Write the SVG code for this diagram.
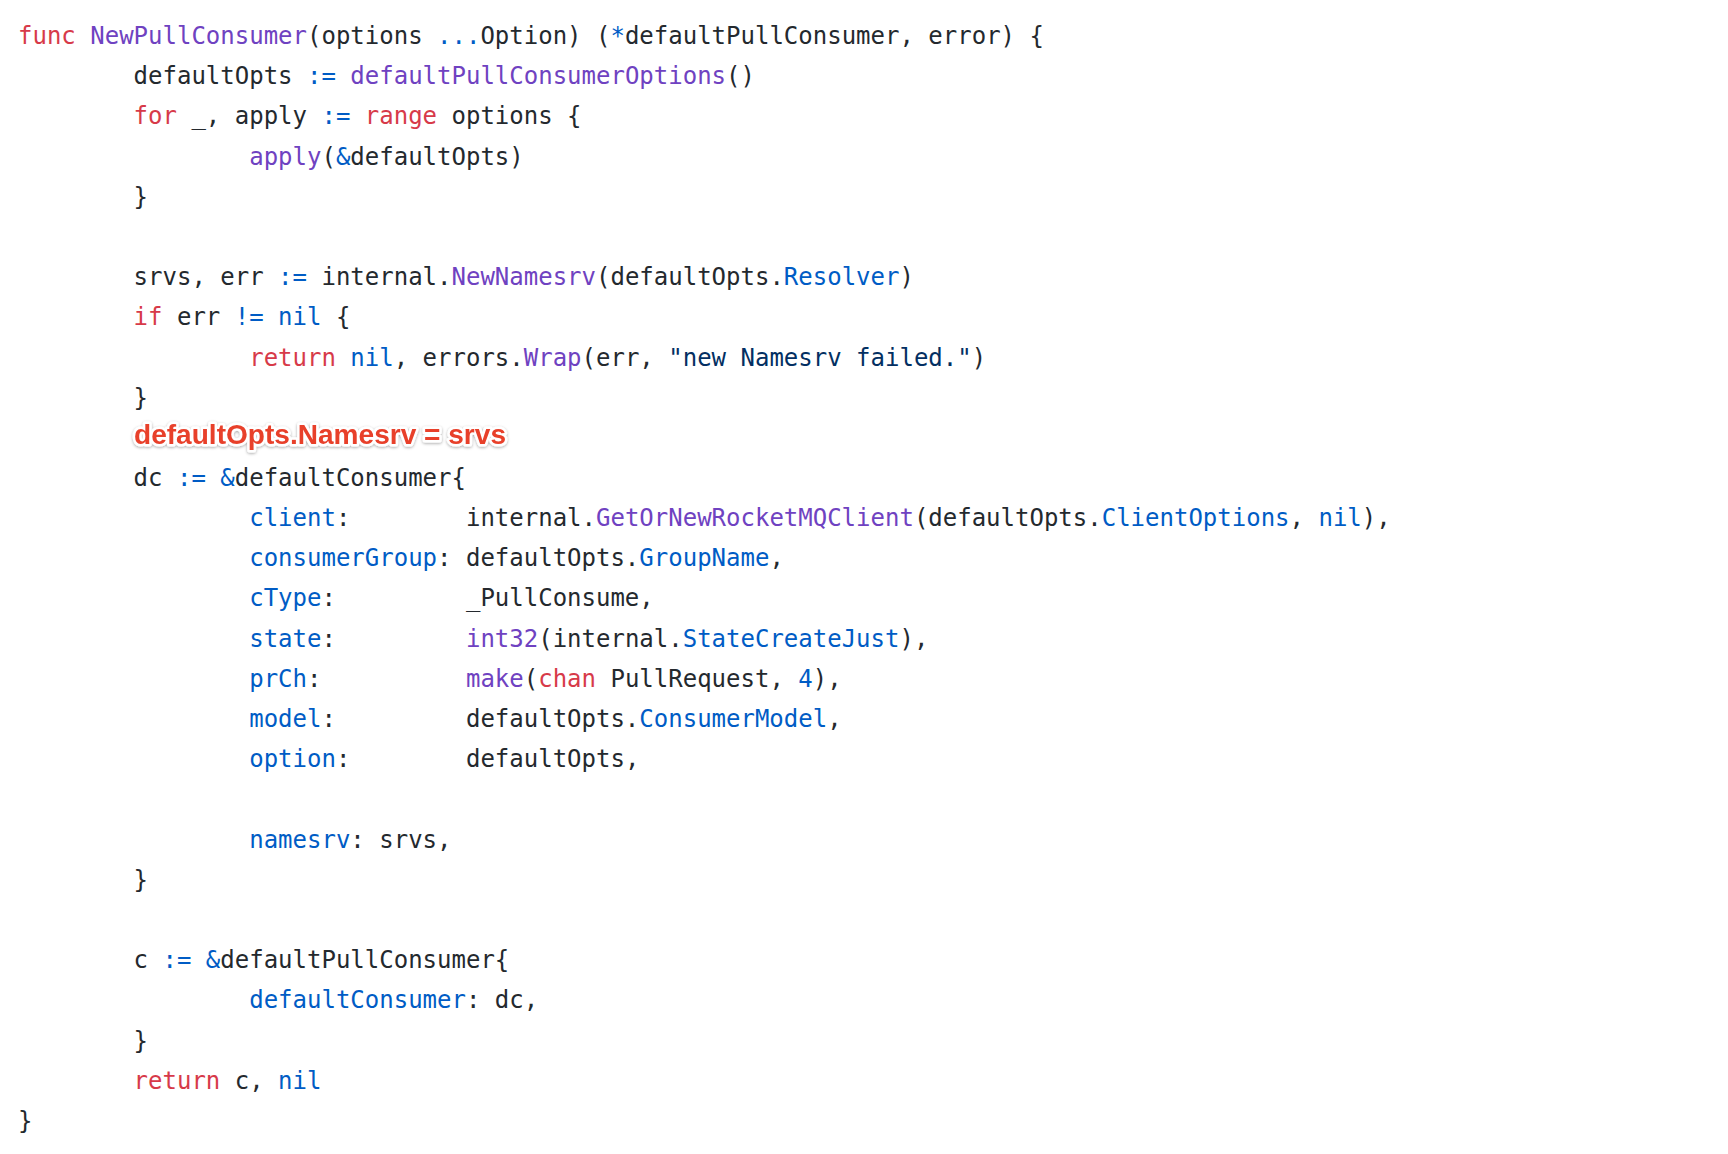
<svg xmlns="http://www.w3.org/2000/svg" width="1728" height="1154" viewBox="0 0 1728 1154">
<style>
text{font-family:"DejaVu Sans Mono","Liberation Mono",monospace;font-size:24px;fill:#24292e;white-space:pre}
.k{fill:#d73a49}.f{fill:#6f42c1}.b{fill:#005cc5}.s{fill:#032f62}
.hl{font-family:"Liberation Sans",Arial,sans-serif;font-weight:bold;font-size:28px;fill:#e8412c;stroke:#ffffff;stroke-width:5px;stroke-linejoin:round;paint-order:stroke;white-space:normal}
</style>
<defs><filter id="sh" x="-5%" y="-30%" width="110%" height="160%"><feDropShadow dx="0" dy="1" stdDeviation="1.5" flood-color="#000" flood-opacity="0.35"/></filter></defs>
<rect width="1728" height="1154" fill="#ffffff"/>
<g id="code" xml:space="preserve">
<text x="18" y="44"><tspan class="k">func</tspan> <tspan class="f">NewPullConsumer</tspan>(options <tspan class="b">...</tspan>Option) (<tspan class="b">*</tspan>defaultPullConsumer, error) {</text>
<text x="18" y="84">        defaultOpts <tspan class="b">:=</tspan> <tspan class="f">defaultPullConsumerOptions</tspan>()</text>
<text x="18" y="124">        <tspan class="k">for</tspan> _, apply <tspan class="b">:=</tspan> <tspan class="k">range</tspan> options {</text>
<text x="18" y="165">                <tspan class="f">apply</tspan>(<tspan class="b">&amp;</tspan>defaultOpts)</text>
<text x="18" y="205">        }</text>
<text x="18" y="285">        srvs, err <tspan class="b">:=</tspan> internal.<tspan class="f">NewNamesrv</tspan>(defaultOpts.<tspan class="b">Resolver</tspan>)</text>
<text x="18" y="325">        <tspan class="k">if</tspan> err <tspan class="b">!=</tspan> <tspan class="b">nil</tspan> {</text>
<text x="18" y="366">                <tspan class="k">return</tspan> <tspan class="b">nil</tspan>, errors.<tspan class="f">Wrap</tspan>(err, <tspan class="s">"new Namesrv failed."</tspan>)</text>
<text x="18" y="406">        }</text>
<text x="18" y="486">        dc <tspan class="b">:=</tspan> <tspan class="b">&amp;</tspan>defaultConsumer{</text>
<text x="18" y="526">                <tspan class="b">client</tspan>:        internal.<tspan class="f">GetOrNewRocketMQClient</tspan>(defaultOpts.<tspan class="b">ClientOptions</tspan>, <tspan class="b">nil</tspan>),</text>
<text x="18" y="566">                <tspan class="b">consumerGroup</tspan>: defaultOpts.<tspan class="b">GroupName</tspan>,</text>
<text x="18" y="606">                <tspan class="b">cType</tspan>:         _PullConsume,</text>
<text x="18" y="647">                <tspan class="b">state</tspan>:         <tspan class="f">int32</tspan>(internal.<tspan class="b">StateCreateJust</tspan>),</text>
<text x="18" y="687">                <tspan class="b">prCh</tspan>:          <tspan class="f">make</tspan>(<tspan class="k">chan</tspan> PullRequest, <tspan class="b">4</tspan>),</text>
<text x="18" y="727">                <tspan class="b">model</tspan>:         defaultOpts.<tspan class="b">ConsumerModel</tspan>,</text>
<text x="18" y="767">                <tspan class="b">option</tspan>:        defaultOpts,</text>
<text x="18" y="848">                <tspan class="b">namesrv</tspan>: srvs,</text>
<text x="18" y="888">        }</text>
<text x="18" y="968">        c <tspan class="b">:=</tspan> <tspan class="b">&amp;</tspan>defaultPullConsumer{</text>
<text x="18" y="1008">                <tspan class="b">defaultConsumer</tspan>: dc,</text>
<text x="18" y="1049">        }</text>
<text x="18" y="1089">        <tspan class="k">return</tspan> c, <tspan class="b">nil</tspan></text>
<text x="18" y="1129">}</text>
</g>
<g id="annotation" filter="url(#sh)">
<text class="hl" x="134" y="444" textLength="372" lengthAdjust="spacingAndGlyphs">defaultOpts.Namesrv = srvs</text>
</g>
</svg>
